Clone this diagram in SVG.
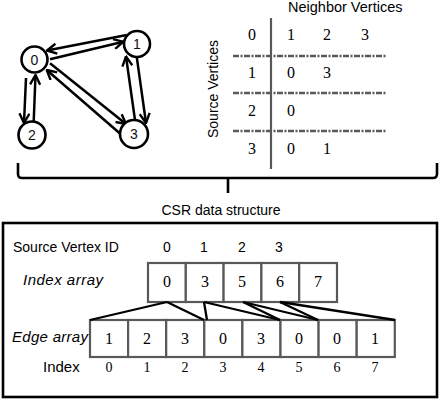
<svg xmlns="http://www.w3.org/2000/svg" width="440" height="400" viewBox="0 0 440 400">
<style>
.sans{font-family:"Liberation Sans",Arial,sans-serif;}
.serif{font-family:"Liberation Serif","Times New Roman",serif;}
.node circle{fill:#fff;stroke:#000;stroke-width:2.6}
.node text{font-family:"Liberation Sans",Arial,sans-serif;font-size:14px;fill:#111;text-anchor:middle;dominant-baseline:central}
.edge{stroke:#000;stroke-width:2.5;fill:none;marker-end:url(#ah)}
.cell{fill:#fff;stroke:#595959;stroke-width:2.2}
.num{font-family:"Liberation Serif","Times New Roman",serif;font-size:16px;fill:#000;text-anchor:middle;dominant-baseline:central}
.dash{stroke:#595959;stroke-width:2.4;stroke-dasharray:6 1.5 2 1.5}
.link{stroke:#000;stroke-width:2.3}
</style>
<defs>
<marker id="ah" viewBox="0 0 12 12" refX="11" refY="6" markerWidth="12" markerHeight="12" markerUnits="userSpaceOnUse" orient="auto">
<path d="M1.5,1 L11,6 L1.5,11" fill="none" stroke="#000" stroke-width="2.4"/>
</marker>
</defs>
<rect width="440" height="400" fill="#fff"/>

<g id="connectors">
<line class="edge" x1="126.7" y1="35" x2="47" y2="50.5"/>
<line class="edge" x1="50" y1="59.3" x2="123.3" y2="41.7"/>
<line class="edge" x1="26" y1="78" x2="24" y2="123"/>
<line class="edge" x1="33.5" y1="126.7" x2="35.5" y2="75"/>
<line class="edge" x1="50" y1="63.3" x2="126" y2="124"/>
<line class="edge" x1="121.7" y1="135" x2="46.7" y2="70"/>
<line class="edge" x1="135" y1="120" x2="126" y2="56.5"/>
<line class="edge" x1="136.7" y1="56.7" x2="146" y2="123"/>
</g>
<g id="n0" class="node"><circle cx="34.5" cy="59.5" r="13"/><text x="34.5" y="59.5">0</text></g>
<g id="n1" class="node"><circle cx="137" cy="44" r="13"/><text x="137" y="44">1</text></g>
<g id="n2" class="node"><circle cx="32" cy="135" r="13.5"/><text x="32" y="135">2</text></g>
<g id="n3" class="node"><circle cx="134" cy="134" r="14"/><text x="134" y="134">3</text></g>

<g id="table">
<text class="sans" x="288" y="12" font-size="14.5">Neighbor Vertices</text>
<text class="sans" font-size="14" text-anchor="middle" transform="translate(218,89) rotate(-90)">Source Vertices</text>
<line x1="271" y1="18" x2="271" y2="169" stroke="#595959" stroke-width="2.2"/>
<line class="dash" x1="233" y1="56" x2="386" y2="56"/>
<line class="dash" x1="233" y1="93" x2="386" y2="93"/>
<line class="dash" x1="233" y1="131" x2="386" y2="131"/>
<text class="num" x="252" y="34">0</text><text class="num" x="291" y="34">1</text><text class="num" x="327" y="34">2</text><text class="num" x="365" y="34">3</text>
<text class="num" x="252" y="72">1</text><text class="num" x="291" y="72">0</text><text class="num" x="327" y="72">3</text>
<text class="num" x="252" y="110">2</text><text class="num" x="291" y="110">0</text>
<text class="num" x="252" y="148">3</text><text class="num" x="291" y="148">0</text><text class="num" x="327" y="148">1</text>
</g>

<path d="M18,163 L18,174 Q18,178 22,178 L433,178 Q437,178 437,174 L437,163 M228,178 L228,193" fill="none" stroke="#000" stroke-width="2.6"/>
<text class="sans" x="221" y="215" font-size="14" text-anchor="middle">CSR data structure</text>

<g id="csr">
<rect x="3" y="223" width="434" height="174" fill="none" stroke="#000" stroke-width="2.6"/>
<text class="sans" x="13" y="252" font-size="14">Source Vertex ID</text>
<g class="sans" font-size="14" text-anchor="middle">
<text x="167" y="252">0</text><text x="204" y="252">1</text><text x="242" y="252">2</text><text x="279" y="252">3</text>
</g>
<text class="sans" x="23" y="285" font-size="15" font-style="italic" textLength="80">Index array</text>
<g id="index-array">
<rect class="cell" x="148" y="263" width="37.8" height="39"/>
<rect class="cell" x="185.8" y="263" width="37.8" height="39"/>
<rect class="cell" x="223.6" y="263" width="37.8" height="39"/>
<rect class="cell" x="261.4" y="263" width="37.8" height="39"/>
<rect class="cell" x="299.2" y="263" width="37.8" height="39"/>
<text class="num" x="167" y="281">0</text><text class="num" x="205" y="281">3</text><text class="num" x="242" y="281">5</text><text class="num" x="280" y="281">6</text><text class="num" x="318" y="281">7</text>
</g>
<g id="edge-array">
<rect class="cell" x="90" y="320" width="38.1" height="37"/>
<rect class="cell" x="128.1" y="320" width="38.1" height="37"/>
<rect class="cell" x="166.2" y="320" width="38.1" height="37"/>
<rect class="cell" x="204.3" y="320" width="38.1" height="37"/>
<rect class="cell" x="242.4" y="320" width="38.1" height="37"/>
<rect class="cell" x="280.5" y="320" width="38.1" height="37"/>
<rect class="cell" x="318.6" y="320" width="38.1" height="37"/>
<rect class="cell" x="356.7" y="320" width="38.1" height="37"/>
<text class="num" x="109" y="338">1</text><text class="num" x="147" y="338">2</text><text class="num" x="185" y="338">3</text><text class="num" x="223" y="338">0</text><text class="num" x="261" y="338">3</text><text class="num" x="299" y="338">0</text><text class="num" x="337" y="338">0</text><text class="num" x="375" y="338">1</text>
</g>
<g id="links">
<line class="link" x1="167" y1="302" x2="90" y2="320"/>
<line class="link" x1="167" y1="302" x2="204" y2="320"/>
<line class="link" x1="204" y1="302" x2="207" y2="320"/>
<line class="link" x1="204" y1="302" x2="280" y2="320"/>
<line class="link" x1="243" y1="302" x2="280" y2="320"/>
<line class="link" x1="243" y1="302" x2="318" y2="320"/>
<line class="link" x1="280" y1="302" x2="318" y2="320"/>
<line class="link" x1="280" y1="302" x2="395" y2="320"/>
</g>
<text class="sans" x="12" y="342" font-size="15" font-style="italic" textLength="76">Edge array</text>
<text class="sans" x="43" y="372" font-size="15">Index</text>
<g class="serif" font-size="14" text-anchor="middle">
<text x="109" y="372">0</text><text x="147" y="372">1</text><text x="185" y="372">2</text><text x="223" y="372">3</text><text x="261" y="372">4</text><text x="299" y="372">5</text><text x="337" y="372">6</text><text x="375" y="372">7</text>
</g>
</g>
</svg>
